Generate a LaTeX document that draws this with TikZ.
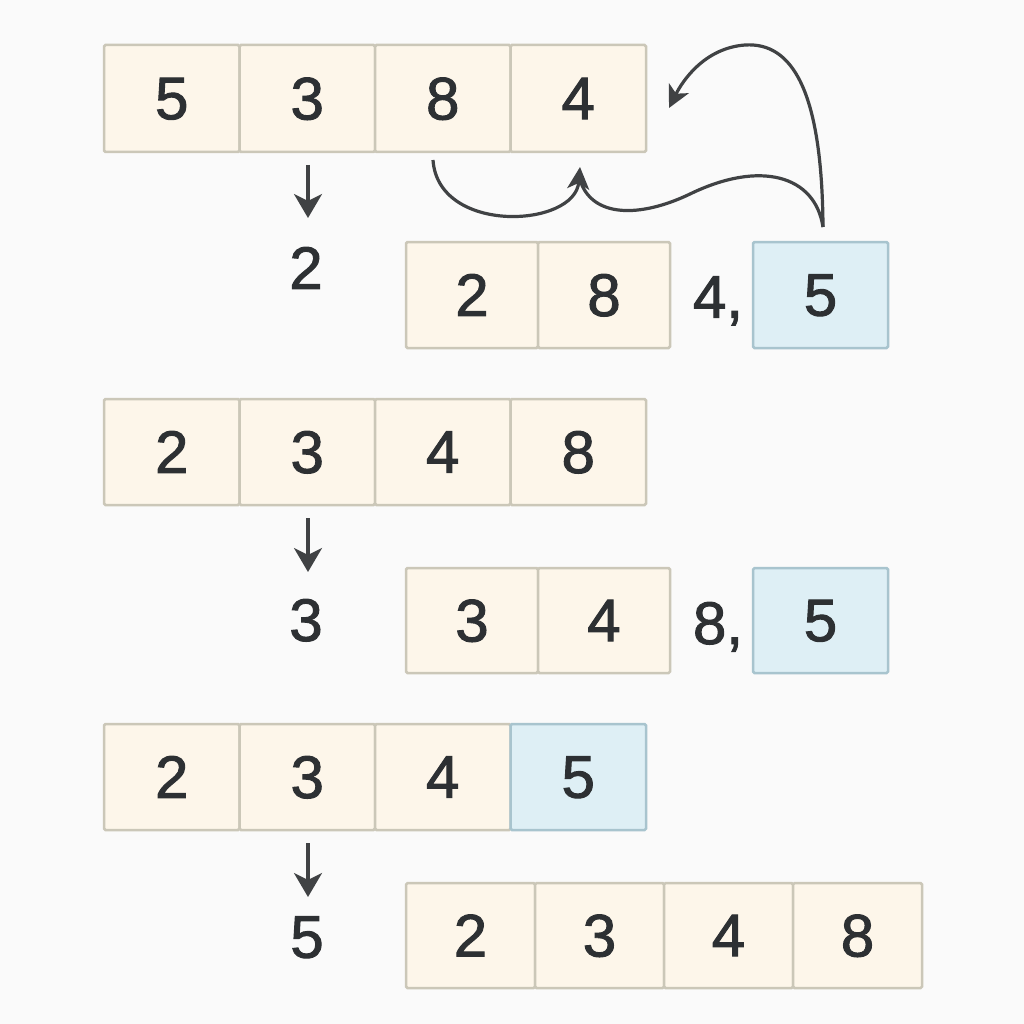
\documentclass[tikz,border=0pt]{standalone}
\usepackage{fontspec}
\setmainfont{Liberation Sans}
\newfontfamily\digfont{Liberation Sans}[FakeBold=1.6]
\usetikzlibrary{arrows.meta}
\definecolor{bg}{RGB}{250,250,250}
\definecolor{cream}{RGB}{253,246,234}
\definecolor{creamedge}{RGB}{203,199,184}
\definecolor{bluefill}{RGB}{222,239,245}
\definecolor{blueedge}{RGB}{168,196,206}
\definecolor{ink}{RGB}{45,48,51}
\definecolor{arr}{RGB}{64,66,68}
\tikzset{
  cell/.style={draw=creamedge, fill=cream, line width=2.5pt, rounded corners=1.5pt,
    minimum width=135.5pt, minimum height=107pt, inner sep=0pt, text=ink,
    font=\digfont\fontsize{60}{60}\selectfont, text depth=0pt},
  bcell/.style={cell, draw=blueedge, fill=bluefill},
  lbl/.style={inner sep=0pt, text=ink, font=\digfont\fontsize{60}{60}\selectfont, text depth=0pt},
  conn/.style={draw=arr, line width=3.2pt, -{Stealth[length=22pt,width=22pt,inset=6pt]}},
  connb/.style={draw=arr, line width=3.2pt},
  down/.style={draw=arr, line width=3.4pt, -{Stealth[length=24pt,width=28pt,inset=7pt]}}
}
\begin{document}
\begin{tikzpicture}[x=1pt,y=-1pt]
\fill[bg] (0,0) rectangle (1024,1024);
\useasboundingbox (0,0) rectangle (1024,1024);
% Row 1
\node[cell] (a1) at (171.75,98.5) {5};
\node[cell] (a2) at (307.25,98.5) {3};
\node[cell] (a3) at (442.75,98.5) {8};
\node[cell] (a4) at (578.25,98.5) {4};
% pivot 1
\node[lbl] (p1) at (306,268) {2};
\coordinate (d1s) at (308,165);
\coordinate (d1e) at (308,218);
\draw[down] (d1s) -- (d1e);
% Row 2
\node[cell, minimum width=132pt, minimum height=106pt] (b1) at (472,295) {2};
\node[cell, minimum width=132pt, minimum height=106pt] (b2) at (604,295) {8};
\node[lbl] (b3) at (718,297) {4,};
\node[bcell, minimum width=135pt, minimum height=106pt] (b4) at (820.5,295) {5};
% curves
\coordinate (c1s) at (433,160);
\coordinate (tip) at (580,167);
\coordinate (c2s) at (823,227);
\coordinate (tip2) at (669,108);
\draw[connb] (c2s) .. controls (815,175) and (760,160) .. (690,194)
   .. controls (640,218) and (592,218) .. (580,180);
\draw[conn] (c1s) .. controls (438,235) and (575,228) .. (tip);
\draw[conn] (c2s) .. controls (822,90) and (792,42) .. (745,45)
   .. controls (705,48) and (683,80) .. (tip2);
% Row 3
\node[cell, minimum height=106pt] (e1) at (171.75,452) {2};
\node[cell, minimum height=106pt] (e2) at (307.25,452) {3};
\node[cell, minimum height=106pt] (e3) at (442.75,452) {4};
\node[cell, minimum height=106pt] (e4) at (578.25,452) {8};
% pivot 2
\coordinate (d2s) at (308,518);
\coordinate (d2e) at (308,572);
\draw[down] (d2s) -- (d2e);
\node[lbl] (p2) at (306,620) {3};
% Row 4
\node[cell, minimum width=132pt, minimum height=105pt] (f1) at (472,620.5) {3};
\node[cell, minimum width=132pt, minimum height=105pt] (f2) at (604,620.5) {4};
\node[lbl] (f3) at (718,623) {8,};
\node[bcell, minimum width=135pt, minimum height=105pt] (f4) at (820.5,620.5) {5};
% Row 5
\node[cell, minimum height=106pt] (g1) at (171.75,777) {2};
\node[cell, minimum height=106pt] (g2) at (307.25,777) {3};
\node[cell, minimum height=106pt] (g3) at (442.75,777) {4};
\node[bcell, minimum height=106pt] (g4) at (578.25,777) {5};
% pivot 3
\coordinate (d3s) at (308,843);
\coordinate (d3e) at (308,897);
\draw[down] (d3s) -- (d3e);
\node[lbl] (p3) at (307,937) {5};
% Row 6
\node[cell, minimum width=129pt, minimum height=105pt] (h1) at (470.5,935.5) {2};
\node[cell, minimum width=129pt, minimum height=105pt] (h2) at (599.5,935.5) {3};
\node[cell, minimum width=129pt, minimum height=105pt] (h3) at (728.5,935.5) {4};
\node[cell, minimum width=129pt, minimum height=105pt] (h4) at (857.5,935.5) {8};
\end{tikzpicture}
\end{document}
